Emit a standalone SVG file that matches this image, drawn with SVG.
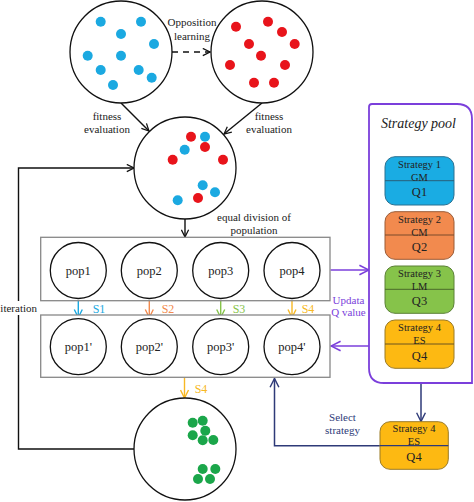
<svg xmlns="http://www.w3.org/2000/svg" width="474" height="502" viewBox="0 0 474 502">
<defs>
<style>
text{fill:#222}
.c{fill:#fff;stroke:#111;stroke-width:1.3}
.box{fill:#fff;stroke:#888;stroke-width:1.3}
.b{fill:#1BA9E1}.r{fill:#E8141B}.g{fill:#1BA64A}
.t11{font-size:11px;text-anchor:middle}
.pop{font-size:12.5px;text-anchor:middle}
.st{font-size:10.5px;text-anchor:middle;fill:#222}
.q{font-size:12.5px;text-anchor:middle;fill:#222}
.k{fill:none;stroke:#111;stroke-width:1.4}
</style>
<marker id="ak" viewBox="0 0 10 10" refX="9" refY="5" markerWidth="9" markerHeight="9" markerUnits="userSpaceOnUse" orient="auto"><path d="M1,1 L9,5 L1,9" fill="none" stroke="#111" stroke-width="1.4"/></marker>
<marker id="ab" viewBox="0 0 10 10" refX="9" refY="5" markerWidth="10" markerHeight="10" markerUnits="userSpaceOnUse" orient="auto"><path d="M1,1 L9,5 L1,9" fill="none" stroke="#1BA9E1" stroke-width="1.4"/></marker>
<marker id="ao" viewBox="0 0 10 10" refX="9" refY="5" markerWidth="10" markerHeight="10" markerUnits="userSpaceOnUse" orient="auto"><path d="M1,1 L9,5 L1,9" fill="none" stroke="#F28A4E" stroke-width="1.4"/></marker>
<marker id="ag" viewBox="0 0 10 10" refX="9" refY="5" markerWidth="10" markerHeight="10" markerUnits="userSpaceOnUse" orient="auto"><path d="M1,1 L9,5 L1,9" fill="none" stroke="#86C34A" stroke-width="1.4"/></marker>
<marker id="ay" viewBox="0 0 10 10" refX="9" refY="5" markerWidth="10" markerHeight="10" markerUnits="userSpaceOnUse" orient="auto"><path d="M1,1 L9,5 L1,9" fill="none" stroke="#F7B824" stroke-width="1.4"/></marker>
<marker id="ap" viewBox="0 0 10 10" refX="9" refY="5" markerWidth="12" markerHeight="12" markerUnits="userSpaceOnUse" orient="auto"><path d="M1,1 L9,5 L1,9" fill="none" stroke="#7B3FDB" stroke-width="1.3"/></marker>
<marker id="an" viewBox="0 0 10 10" refX="9" refY="5" markerWidth="11" markerHeight="11" markerUnits="userSpaceOnUse" orient="auto"><path d="M1,1 L9,5 L1,9" fill="none" stroke="#2E3A78" stroke-width="1.3"/></marker>
</defs>
<rect width="474" height="502" fill="#fff"/>

<g id="connectors">
<path d="M172,52 H210" fill="none" stroke="#111" stroke-width="1.4" stroke-dasharray="6,5" marker-end="url(#ak)"/>
<path class="k" d="M121,103 L149,131" marker-end="url(#ak)"/>
<path class="k" d="M262,103 L224,134" marker-end="url(#ak)"/>
<path class="k" d="M185,219 V237" marker-end="url(#ak)"/>
<path class="k" d="M134,449 H18.5 V168 H134" marker-end="url(#ak)"/>
<path d="M78.3,301 V317.5" fill="none" stroke="#1BA9E1" stroke-width="1.4" marker-end="url(#ab)"/>
<path d="M149.3,301 V317.5" fill="none" stroke="#F28A4E" stroke-width="1.4" marker-end="url(#ao)"/>
<path d="M220.7,301 V317.5" fill="none" stroke="#86C34A" stroke-width="1.4" marker-end="url(#ag)"/>
<path d="M292,301 V317.5" fill="none" stroke="#F7B824" stroke-width="1.4" marker-end="url(#ay)"/>
<path d="M184.5,377.5 V398" fill="none" stroke="#F7B824" stroke-width="1.4" marker-end="url(#ay)"/>
<path d="M330.5,270 H369" fill="none" stroke="#7B3FDB" stroke-width="1.3" marker-end="url(#ap)"/>
<path d="M369,346 H331" fill="none" stroke="#7B3FDB" stroke-width="1.3" marker-end="url(#ap)"/>
<path d="M421,383 V421.5" fill="none" stroke="#2E3A78" stroke-width="1.5" marker-end="url(#an)"/>
<path d="M380,445.7 H274.5 V378.5" fill="none" stroke="#2E3A78" stroke-width="1.5" marker-end="url(#an)"/>
<rect x="0" y="301" width="37" height="14" fill="#fff"/>
<text font-family="Liberation Serif" x="37" y="312" font-size="11" text-anchor="end">iteration</text>
<text font-family="Liberation Serif" class="t11" x="192" y="25.5">Opposition</text>
<text font-family="Liberation Serif" class="t11" x="192" y="39.5">learning</text>
<text font-family="Liberation Serif" class="t11" x="107" y="119.5">fitness</text>
<text font-family="Liberation Serif" class="t11" x="107" y="133">evaluation</text>
<text font-family="Liberation Serif" class="t11" x="269" y="119.5">fitness</text>
<text font-family="Liberation Serif" class="t11" x="269" y="133">evaluation</text>
<text font-family="Liberation Serif" class="t11" x="254" y="221">equal division of</text>
<text font-family="Liberation Serif" class="t11" x="254" y="234">population</text>
<text font-family="Liberation Serif" x="99" y="312.5" font-size="12" text-anchor="middle" style="fill:#1BA9E1">S1</text>
<text font-family="Liberation Serif" x="168" y="312.5" font-size="12" text-anchor="middle" style="fill:#F28A4E">S2</text>
<text font-family="Liberation Serif" x="239" y="312.5" font-size="12" text-anchor="middle" style="fill:#86C34A">S3</text>
<text font-family="Liberation Serif" x="308" y="312.5" font-size="12" text-anchor="middle" style="fill:#F7B824">S4</text>
<text font-family="Liberation Serif" x="201" y="392.5" font-size="12" text-anchor="middle" style="fill:#F7B824">S4</text>
<text font-family="Liberation Serif" class="t11" x="348.5" y="303.5" style="fill:#7B3FDB">Updata</text>
<text font-family="Liberation Serif" class="t11" x="348.5" y="315.5" style="fill:#7B3FDB">Q value</text>
<text font-family="Liberation Serif" class="t11" x="342.5" y="420.5" style="fill:#2E3A78">Select</text>
<text font-family="Liberation Serif" class="t11" x="342.5" y="433.5" style="fill:#2E3A78">strategy</text>
</g>

<g id="init-pop">
<circle class="c" cx="121" cy="52" r="51"/>
<circle class="b" cx="100.7" cy="21.7" r="5"/><circle class="b" cx="141" cy="21.7" r="5"/>
<circle class="b" cx="121" cy="34" r="5"/><circle class="b" cx="154" cy="44" r="5"/>
<circle class="b" cx="87.7" cy="55.7" r="5"/><circle class="b" cx="121" cy="55.7" r="5"/>
<circle class="b" cx="100.7" cy="70" r="5"/><circle class="b" cx="138.7" cy="70" r="5"/>
<circle class="b" cx="151.7" cy="77.7" r="5"/><circle class="b" cx="113" cy="85" r="5"/>
</g>

<g id="opp-pop">
<circle class="c" cx="262" cy="52" r="51"/>
<circle class="r" cx="236" cy="26.7" r="5"/><circle class="r" cx="268" cy="21.7" r="5"/>
<circle class="r" cx="282" cy="32" r="5"/><circle class="r" cx="249" cy="44" r="5"/>
<circle class="r" cx="294.7" cy="44" r="5"/><circle class="r" cx="261" cy="55.7" r="5"/>
<circle class="r" cx="230" cy="65" r="5"/><circle class="r" cx="285" cy="65" r="5"/>
<circle class="r" cx="254" cy="82.7" r="5"/><circle class="r" cx="274" cy="82.7" r="5"/>
</g>

<g id="merged-pop">
<circle class="c" cx="185" cy="168" r="51"/>
<circle class="r" cx="191" cy="136.7" r="5"/><circle class="b" cx="205" cy="136.7" r="5"/>
<circle class="b" cx="184.7" cy="149.7" r="5"/><circle class="r" cx="205" cy="147" r="5"/>
<circle class="r" cx="172.7" cy="159.7" r="5"/><circle class="r" cx="223" cy="159.7" r="5"/>
<circle class="b" cx="202.7" cy="185.3" r="5"/><circle class="b" cx="215" cy="192.3" r="5"/>
<circle class="r" cx="198" cy="198" r="5"/><circle class="b" cx="177.7" cy="200.3" r="5"/>
</g>

<g id="sub-pops">
<rect class="box" x="40.7" y="237.3" width="289.3" height="63.4"/>
<circle class="c" cx="78.3" cy="270.5" r="28"/><text font-family="Liberation Serif" class="pop" x="78.3" y="275">pop1</text>
<circle class="c" cx="149.3" cy="270.5" r="28"/><text font-family="Liberation Serif" class="pop" x="149.3" y="275">pop2</text>
<circle class="c" cx="220.7" cy="270.5" r="28"/><text font-family="Liberation Serif" class="pop" x="220.7" y="275">pop3</text>
<circle class="c" cx="292" cy="270.5" r="28"/><text font-family="Liberation Serif" class="pop" x="292" y="275">pop4</text>
</g>

<g id="new-pops">
<rect class="box" x="40.7" y="315" width="289.3" height="62.3"/>
<circle class="c" cx="78.3" cy="346.7" r="28"/><text font-family="Liberation Serif" class="pop" x="78.3" y="351">pop1'</text>
<circle class="c" cx="149.3" cy="346.7" r="28"/><text font-family="Liberation Serif" class="pop" x="149.3" y="351">pop2'</text>
<circle class="c" cx="220.7" cy="346.7" r="28"/><text font-family="Liberation Serif" class="pop" x="220.7" y="351">pop3'</text>
<circle class="c" cx="292" cy="346.7" r="28"/><text font-family="Liberation Serif" class="pop" x="292" y="351">pop4'</text>
</g>

<g id="best-pop">
<circle class="c" cx="185" cy="449" r="51"/>
<circle class="g" cx="192.7" cy="422.7" r="5"/><circle class="g" cx="202.7" cy="420.7" r="5"/>
<circle class="g" cx="205.3" cy="430.7" r="5"/><circle class="g" cx="192.7" cy="435.3" r="5"/>
<circle class="g" cx="202.7" cy="440.3" r="5"/><circle class="g" cx="213.3" cy="440" r="5"/>
<circle class="g" cx="202.7" cy="469" r="5"/><circle class="g" cx="215.3" cy="469" r="5"/>
<circle class="g" cx="198" cy="479" r="5"/><circle class="g" cx="210" cy="479" r="5"/>
</g>

<g id="strategy-pool">
<path d="M372,104 H457 Q472,104 472,119 V383 H384 Q369,383 369,368 V107 Q369,104 372,104 Z" fill="#fff" stroke="#7B3FDB" stroke-width="1.8"/>
<text font-family="Liberation Serif" x="418.5" y="128" font-size="14" font-style="italic" text-anchor="middle">Strategy pool</text>
<g id="s1">
<rect x="385" y="156.7" width="69" height="48.3" rx="10" fill="#1AACE3" stroke="#2A7090" stroke-width="1"/>
<line x1="385" y1="180.7" x2="454" y2="180.7" stroke="#2A5F78" stroke-width="1"/>
<text font-family="Liberation Serif" class="st" x="419.5" y="167.5">Strategy 1</text><text font-family="Liberation Serif" class="st" x="419.5" y="181">GM</text><text font-family="Liberation Serif" class="q" x="419.5" y="196">Q1</text>
</g>
<g id="s2">
<rect x="385" y="211.7" width="69" height="47.6" rx="10" fill="#F28A4E" stroke="#9A5A35" stroke-width="1"/>
<line x1="385" y1="235" x2="454" y2="235" stroke="#7A4A2A" stroke-width="1"/>
<text font-family="Liberation Serif" class="st" x="419.5" y="222.5">Strategy 2</text><text font-family="Liberation Serif" class="st" x="419.5" y="235.5">CM</text><text font-family="Liberation Serif" class="q" x="419.5" y="251">Q2</text>
</g>
<g id="s3">
<rect x="385" y="266" width="69" height="47.3" rx="10" fill="#86C34A" stroke="#5A8035" stroke-width="1"/>
<line x1="385" y1="289.3" x2="454" y2="289.3" stroke="#4A6A2A" stroke-width="1"/>
<text font-family="Liberation Serif" class="st" x="419.5" y="277">Strategy 3</text><text font-family="Liberation Serif" class="st" x="419.5" y="290">LM</text><text font-family="Liberation Serif" class="q" x="419.5" y="305">Q3</text>
</g>
<g id="s4">
<rect x="385" y="320" width="69" height="48.3" rx="10" fill="#FDB912" stroke="#9A7A25" stroke-width="1"/>
<line x1="385" y1="344" x2="454" y2="344" stroke="#6A5520" stroke-width="1"/>
<text font-family="Liberation Serif" class="st" x="419.5" y="331">Strategy 4</text><text font-family="Liberation Serif" class="st" x="419.5" y="344">ES</text><text font-family="Liberation Serif" class="q" x="419.5" y="360">Q4</text>
</g>
</g>

<g id="selected-strategy">
<rect x="380" y="421.7" width="68.3" height="47.6" rx="10" fill="#FDB912" stroke="#9A7A25" stroke-width="1"/>
<line x1="380" y1="445.7" x2="448.3" y2="445.7" stroke="#2E3A78" stroke-width="1.2"/>
<text font-family="Liberation Serif" class="st" x="414" y="432">Strategy 4</text><text font-family="Liberation Serif" class="st" x="414" y="444.5">ES</text><text font-family="Liberation Serif" class="q" x="414" y="461">Q4</text>
</g>
</svg>
